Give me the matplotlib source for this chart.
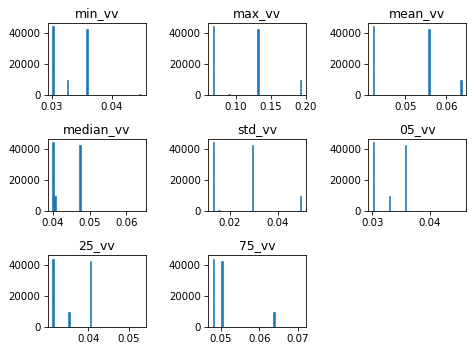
import matplotlib
matplotlib.use('Agg')
import matplotlib.pyplot as plt
import numpy as np

# distinct values of each column and how often they occur
columns = ['min_vv', 'max_vv', 'mean_vv', 'median_vv', 'std_vv', '05_vv', '25_vv', '75_vv']

min_vals = [0.0301, 0.0326, 0.0358, 0.0448]
min_counts = [44000, 9500, 42300, 150]

max_vals = [0.0670, 0.0915, 0.1320, 0.1940]
max_counts = [44000, 500, 42300, 9500]

mean_vals = [0.0421, 0.0556, 0.0637]
mean_counts = [44000, 42300, 9500]

median_vals = [0.0399, 0.0407, 0.0472, 0.0640]
median_counts = [44000, 9500, 42300, 150]

std_vals = [0.0127, 0.0154, 0.0294, 0.0500]
std_counts = [44000, 600, 42300, 9500]

p05_vals = [0.0301, 0.0331, 0.0359, 0.0455]
p05_counts = [44000, 9500, 42300, 150]

p25_vals = [0.0311, 0.0352, 0.0404, 0.0530]
p25_counts = [44000, 9500, 42300, 150]

p75_vals = [0.0479, 0.0502, 0.0637, 0.0709]
p75_counts = [44000, 42300, 9500, 150]

data = {
    'min_vv': (min_vals, min_counts),
    'max_vv': (max_vals, max_counts),
    'mean_vv': (mean_vals, mean_counts),
    'median_vv': (median_vals, median_counts),
    'std_vv': (std_vals, std_counts),
    '05_vv': (p05_vals, p05_counts),
    '25_vv': (p25_vals, p25_counts),
    '75_vv': (p75_vals, p75_counts),
}

fig, axes = plt.subplots(3, 3, figsize=(474/74, 353/74), dpi=74)
axes = axes.flatten()

for ax, name in zip(axes, columns):
    vals, counts = data[name]
    ax.hist(vals, bins=50, weights=counts, color='#1f77b4',
            edgecolor='#1f77b4', linewidth=0.6)
    ax.set_title(name)

axes[8].set_visible(False)

fig.subplots_adjust(left=0.101, right=0.983, bottom=0.074, top=0.935, wspace=0.64, hspace=0.62)
plt.savefig('out.png', dpi=74)
